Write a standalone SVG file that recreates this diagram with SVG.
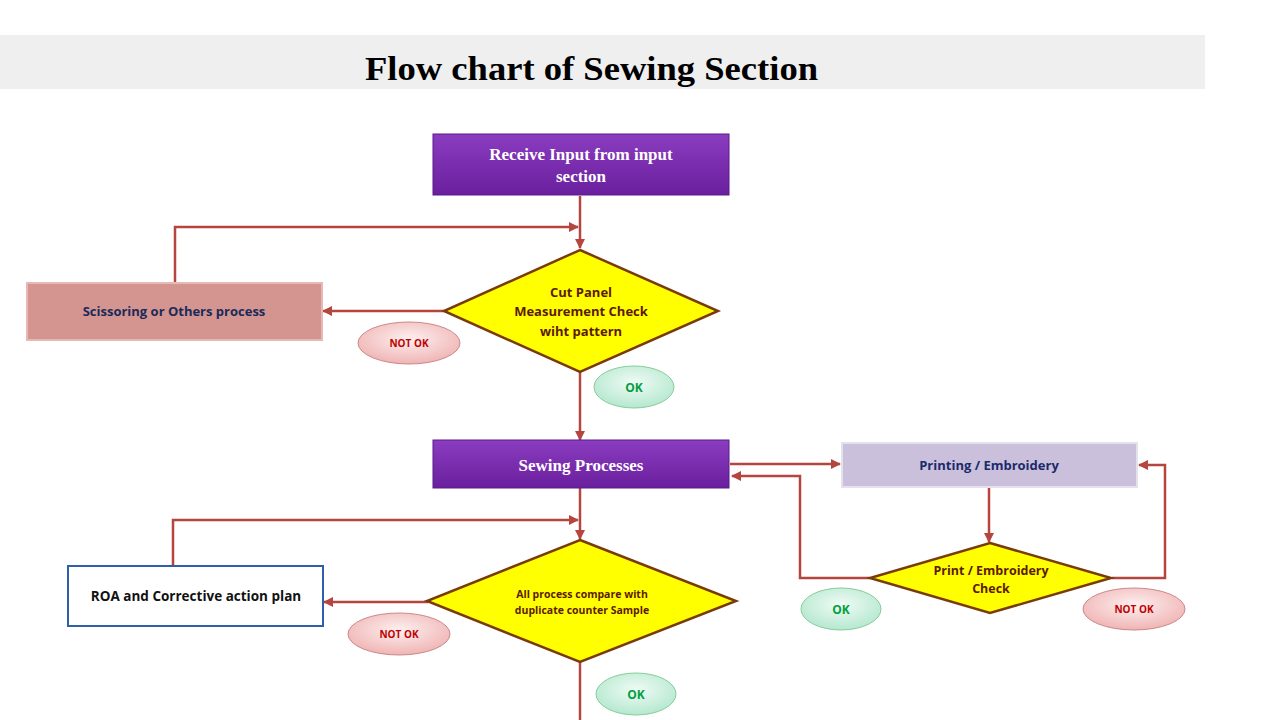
<svg xmlns="http://www.w3.org/2000/svg" width="1280" height="720" viewBox="0 0 1280 720">
<defs>
<linearGradient id="pur" x1="0" y1="0" x2="0" y2="1"><stop offset="0" stop-color="#8a3dbf"/><stop offset="1" stop-color="#6a1f9e"/></linearGradient>
<radialGradient id="red" cx="0.5" cy="0.4" r="0.6"><stop offset="0" stop-color="#fdf0f0"/><stop offset="1" stop-color="#f0b4b4"/></radialGradient>
<radialGradient id="grn" cx="0.5" cy="0.4" r="0.6"><stop offset="0" stop-color="#f0fbf5"/><stop offset="1" stop-color="#b4e8cf"/></radialGradient>
<marker id="ar" viewBox="0 0 10 10" refX="9" refY="5" markerWidth="4" markerHeight="4" orient="auto"><path d="M0,0L10,5L0,10z" fill="#b5463f"/></marker>
</defs>
<style>
.c{fill:none;stroke:#b5463f;stroke-width:2.5;marker-end:url(#ar)}
.cn{fill:none;stroke:#b5463f;stroke-width:2.5}
.pt{font-family:"Liberation Serif",serif;font-weight:bold;font-size:17px;fill:#fff;text-anchor:middle}
.dt{font-family:"Open Sans","Liberation Sans",sans-serif;font-weight:bold;fill:#5c1a00;text-anchor:middle}
.d{fill:#ffff00;stroke:#7a3b0a;stroke-width:2.5}
.no{font-family:"Open Sans","Liberation Sans",sans-serif;font-weight:bold;font-size:10px;fill:#c00000;text-anchor:middle}
.ok{font-family:"Open Sans","Liberation Sans",sans-serif;font-weight:bold;font-size:12px;fill:#00a040;text-anchor:middle}
.er{fill:url(#red);stroke:#c88;stroke-width:1}
.eg{fill:url(#grn);stroke:#8c9;stroke-width:1}
</style>
<rect width="1280" height="720" fill="#fff"/>
<rect x="0" y="35" width="1205" height="54" fill="#efefef"/>
<text x="365" y="80" font-family="Liberation Serif,serif" font-weight="bold" font-size="33" fill="#000" textLength="453" lengthAdjust="spacingAndGlyphs">Flow chart of Sewing Section</text>
<g id="connectors">
<path class="c" d="M580,196V248"/>
<path class="c" d="M175,283V227H578"/>
<path class="c" d="M444,311H323"/>
<path class="c" d="M580,372V440"/>
<path class="c" d="M730,464H840"/>
<path class="c" d="M870,578H800V476H732"/>
<path class="c" d="M989,488V542"/>
<path class="c" d="M1112,578H1165V465H1139"/>
<path class="c" d="M580,488V539"/>
<path class="c" d="M173,566V520H578"/>
<path class="c" d="M428,602H324"/>
<path class="cn" d="M580,662V720"/>
</g>
<g id="n1"><rect x="433" y="134" width="296" height="61" fill="url(#pur)" stroke="#5a1a8a"/><text class="pt" x="581" y="160">Receive Input from input</text><text class="pt" x="581" y="182">section</text></g>
<g id="n2"><rect x="27" y="283" width="295" height="57" fill="#d4948f" stroke="#e8b8b4" stroke-width="2"/><text x="174" y="316" font-family="Open Sans,Liberation Sans,sans-serif" font-weight="bold" font-size="13" fill="#1a2a5a" text-anchor="middle">Scissoring or Others process</text></g>
<g id="n3"><polygon class="d" points="580,250 718,311 580,372 444,311"/><text class="dt" font-size="13" x="581" y="297">Cut Panel</text><text class="dt" font-size="13" x="581" y="316">Measurement Check</text><text class="dt" font-size="13" x="581" y="336">wiht pattern</text></g>
<g id="l1"><ellipse class="er" cx="409" cy="343" rx="51" ry="21"/><text class="no" x="409" y="347">NOT OK</text></g>
<g id="l2"><ellipse class="eg" cx="634" cy="387" rx="40" ry="21"/><text class="ok" x="634" y="392">OK</text></g>
<g id="n4"><rect x="433" y="440" width="296" height="48" fill="url(#pur)" stroke="#5a1a8a"/><text class="pt" x="581" y="471">Sewing Processes</text></g>
<g id="n5"><rect x="842" y="443" width="295" height="44" fill="#cbc0dc" stroke="#e4e0ec" stroke-width="2"/><text x="989" y="470" font-family="Open Sans,Liberation Sans,sans-serif" font-weight="bold" font-size="13" fill="#1a2a6a" text-anchor="middle">Printing / Embroidery</text></g>
<g id="n6"><polygon class="d" points="990,543 1111,578 990,613 870,578"/><text class="dt" font-size="12.5" x="991" y="575">Print / Embroidery</text><text class="dt" font-size="12.5" x="991" y="593">Check</text></g>
<g id="l3"><ellipse class="eg" cx="841" cy="609" rx="40" ry="21"/><text class="ok" x="841" y="614">OK</text></g>
<g id="l4"><ellipse class="er" cx="1134" cy="609" rx="51" ry="21"/><text class="no" x="1134" y="613">NOT OK</text></g>
<g id="n7"><rect x="68" y="566" width="255" height="60" fill="#fff" stroke="#2e5fa8" stroke-width="2"/><text x="196" y="601" font-family="Open Sans,Liberation Sans,sans-serif" font-weight="bold" font-size="13.5" fill="#111" text-anchor="middle">ROA and  Corrective action plan</text></g>
<g id="n8"><polygon class="d" points="580,540 736,601 580,662 427,601"/><text class="dt" font-size="10.5" x="582" y="598">All process compare with</text><text class="dt" font-size="10.5" x="582" y="614">duplicate counter Sample</text></g>
<g id="l5"><ellipse class="er" cx="399" cy="634" rx="51" ry="21"/><text class="no" x="399" y="638">NOT OK</text></g>
<g id="l6"><ellipse class="eg" cx="636" cy="694" rx="40" ry="21"/><text class="ok" x="636" y="699">OK</text></g>
</svg>
